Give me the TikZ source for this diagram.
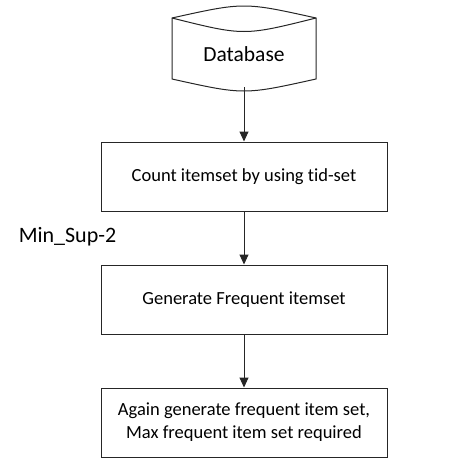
\documentclass[tikz,border=0pt]{standalone}
\usepackage{fontspec}
\setmainfont{Carlito}[Ligatures=NoCommon]
\usetikzlibrary{arrows.meta}
\begin{document}
\begin{tikzpicture}[x=1pt,y=-1pt,
    line/.style={draw=black!85,line width=1pt},
    box/.style={line,minimum width=286pt,minimum height=69pt,inner sep=0pt,
      align=center,font=\fontsize{18.5}{23}\selectfont},
    >={Triangle[width=9pt,length=10pt]}]
    \useasboundingbox (0,0) rectangle (474,474);
    \def\x{244}
    \def\y{123}
    % database
    \draw[line] (172,18) .. controls (\x,2) .. (316,18) -- (316,79)
      .. controls (\x,95) .. (172,79) -- cycle;
    \draw[line] (172,18) .. controls (\x,36) .. (316,18);
    \node (db) at (\x,54) {\fontsize{21.5}{26}\selectfont Database};
    \coordinate (dbout) at (\x,87);
    % steps
    \node (B1) [box] at (\x,0*\y+176.5) {Count itemset by using tid-set};
    \node (B2) [box] at (\x,1*\y+176.5) {Generate Frequent itemset};
    \node (B3) [box] at (\x,2*\y+176.5) {Again generate frequent item set,\\Max frequent item set required};
    \node (minsup) at (67.5,237) {\fontsize{22}{26}\selectfont Min\_Sup-2};
    \path (dbout) edge [line,->] (B1.north);
    \path (B1) edge [line,->] (B2);
    \path (B2) edge [line,->] (B3);
  \end{tikzpicture}
\end{document}
